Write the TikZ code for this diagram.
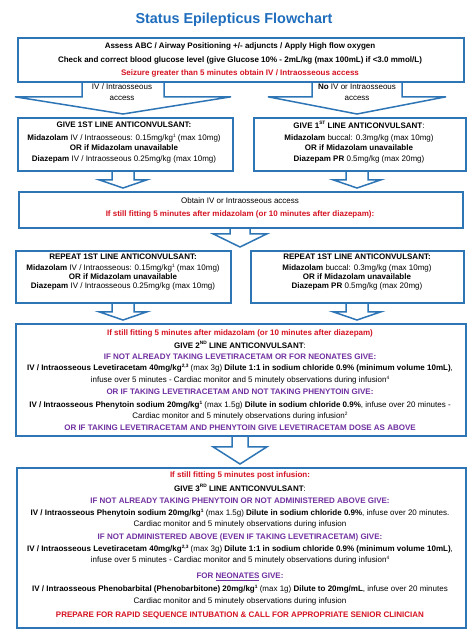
\documentclass[tikz,border=0pt]{standalone}
\usepackage{fontspec}
\setmainfont{Liberation Sans}
\usetikzlibrary{calc}
\definecolor{bborder}{RGB}{46,117,182}
\definecolor{ttlblue}{RGB}{31,110,190}
\definecolor{redt}{RGB}{213,18,33}
\definecolor{purp}{RGB}{112,48,160}
\newcommand\fs{\fontsize{8}{9}\selectfont}
\newcommand\sps[1]{\raisebox{0.42em}{\fontsize{4.8}{5}\selectfont #1}}
\newcommand\hollow[6]{%
  \draw[arr] let \p1=(#1.south), \p2=(#2.north) in
   ({(#3-#4)*1pt},\y1) -- ({(#3-#4)*1pt},{\y1-#6pt}) -- ({(#3-#5)*1pt},{\y1-#6pt})
   -- ({#3pt},{\y2+3pt}) -- ({(#3+#5)*1pt},{\y1-#6pt}) -- ({(#3+#4)*1pt},{\y1-#6pt})
   -- ({(#3+#4)*1pt},\y1);}
\begin{document}
\begin{tikzpicture}[x=1pt,y=-1pt,
  box/.style={draw=bborder,line width=1.8pt,fill=white,anchor=north west,inner sep=0pt},
  arr/.style={draw=bborder,line width=1.5pt,line join=miter},
  tx/.style={inner sep=0pt,anchor=center,font=\fs,text=black},
  tb/.style={tx,font=\fs\bfseries},
  tr/.style={tx,font=\fs\bfseries,text=redt},
  tp/.style={tx,font=\fs\bfseries,text=purp}]
\useasboundingbox (0,0) rectangle (474,640);
\fill[white] (0,0) rectangle (474,640);
% title
\node[inner sep=0pt,font=\fontsize{14.4}{16}\selectfont\bfseries,text=ttlblue] (title) at (234,20) {Status Epilepticus Flowchart};
% boxes
\node[box,minimum width=446pt,minimum height=44pt] (b1) at (17,37) {};
\node[box,minimum width=215pt,minimum height=53pt] (b2l) at (17,117) {};
\node[box,minimum width=212pt,minimum height=53pt] (b2r) at (253,117) {};
\node[box,minimum width=444pt,minimum height=36pt] (b3) at (18,191) {};
\node[box,minimum width=215pt,minimum height=52pt] (b4l) at (15,250) {};
\node[box,minimum width=213pt,minimum height=52pt] (b4r) at (250,250) {};
\node[box,minimum width=450pt,minimum height=112pt] (b5) at (15,323) {};
\node[box,minimum width=449pt,minimum height=160pt] (b6) at (16,467) {};
% arrows
\hollow{b1}{b2l}{123}{41}{108}{14}
\hollow{b1}{b2r}{357}{45}{89}{14}
\hollow{b2l}{b3}{123}{11}{24}{8}
\hollow{b2r}{b3}{357}{11}{24}{8}
\hollow{b3}{b4l}{240}{10}{27}{5}
\hollow{b4l}{b5}{123}{11}{24}{8}
\hollow{b4r}{b5}{357}{11}{24}{8}
\hollow{b5}{b6}{240}{8}{27}{10}
% box 1
\node[tb] (t1a) at (240,46) {Assess ABC / Airway Positioning +/- adjuncts / Apply High flow oxygen};
\node[tb] (t1b) at (240,60) {Check and correct blood glucose level (give Glucose 10\% - 2mL/kg (max 100mL) if <3.0 mmol/L)};
\node[tr] (t1c) at (240,73) {Seizure greater than 5 minutes obtain IV / Intraosseous access};
% arrow labels
\node[tx] (l1a) at (122,87) {IV / Intraosseous};
\node[tx] (l1b) at (122,98) {access};
\node[tx] (l2a) at (357,87) {\textbf{No} IV or Intraosseous};
\node[tx] (l2b) at (357,98) {access};
% box 2 left
\node[tb] (t2a) at (124,125) {GIVE 1ST LINE ANTICONVULSANT:};
\node[tx] (t2b) at (124,138) {\textbf{Midazolam} IV / Intraosseous: 0.15mg/kg\sps{1} (max 10mg)};
\node[tb] (t2c) at (124,148) {OR if Midazolam unavailable};
\node[tx] (t2d) at (124,159) {\textbf{Diazepam} IV / Intraosseous 0.25mg/kg (max 10mg)};
% box 2 right
\node[tx] (t3a) at (359,125) {\textbf{GIVE 1\sps{ST} LINE ANTICONVULSANT}:};
\node[tx] (t3b) at (359,138) {\textbf{Midazolam} buccal: 0.3mg/kg (max 10mg)};
\node[tb] (t3c) at (359,148) {OR if Midazolam unavailable};
\node[tx] (t3d) at (359,159) {\textbf{Diazepam PR} 0.5mg/kg (max 20mg)};
% box 3
\node[tx] (t4a) at (240,201) {Obtain IV or Intraosseous access};
\node[tr] (t4b) at (240,214) {If still fitting 5 minutes after midazolam (or 10 minutes after diazepam):};
% box 4 left
\node[tb] (t5a) at (123,257) {REPEAT 1ST LINE ANTICONVULSANT:};
\node[tx] (t5b) at (123,268) {\textbf{Midazolam} IV / Intraosseous: 0.15mg/kg\sps{1} (max 10mg)};
\node[tb] (t5c) at (123,277) {OR if Midazolam unavailable};
\node[tx] (t5d) at (123,286) {\textbf{Diazepam} IV / Intraosseous 0.25mg/kg (max 10mg)};
% box 4 right
\node[tb] (t6a) at (357,257) {REPEAT 1ST LINE ANTICONVULSANT:};
\node[tx] (t6b) at (357,268) {\textbf{Midazolam} buccal: 0.3mg/kg (max 10mg)};
\node[tb] (t6c) at (357,277) {OR if Midazolam unavailable};
\node[tx] (t6d) at (357,286) {\textbf{Diazepam PR} 0.5mg/kg (max 20mg)};
% box 5
\node[tr] (t7a) at (240,333) {If still fitting 5 minutes after midazolam (or 10 minutes after diazepam)};
\node[tx] (t7b) at (240,345) {\textbf{GIVE 2\sps{ND} LINE ANTICONVULSANT}:};
\node[tp] (t7c) at (240,357) {IF NOT ALREADY TAKING LEVETIRACETAM OR FOR NEONATES GIVE:};
\node[tx] (t7d) at (240,368) {\textbf{IV / Intraosseous Levetiracetam 40mg/kg\sps{2,3}} (max 3g) \textbf{Dilute 1:1 in sodium chloride 0.9\% (minimum volume 10mL)},};
\node[tx] (t7e) at (240,380) {infuse over 5 minutes - Cardiac monitor and 5 minutely observations during infusion\sps{4}};
\node[tp] (t7f) at (240,392) {OR IF TAKING LEVETIRACETAM AND NOT TAKING PHENYTOIN GIVE:};
\node[tx] (t7g) at (240,405) {\textbf{IV / Intraosseous Phenytoin sodium 20mg/kg\sps{1}} (max 1.5g) \textbf{Dilute in sodium chloride 0.9\%}, infuse over 20 minutes -};
\node[tx] (t7h) at (240,416) {Cardiac monitor and 5 minutely observations during infusion\sps{2}};
\node[tp] (t7i) at (240,428) {OR IF TAKING LEVETIRACETAM AND PHENYTOIN GIVE LEVETIRACETAM DOSE AS ABOVE};
% box 6
\node[tr] (t8a) at (240,475) {If still fitting 5 minutes post infusion:};
\node[tx] (t8b) at (240,488) {\textbf{GIVE 3\sps{RD} LINE ANTICONVULSANT}:};
\node[tp] (t8c) at (240,501) {IF NOT ALREADY TAKING PHENYTOIN OR NOT ADMINISTERED ABOVE GIVE:};
\node[tx] (t8d) at (240,513) {\textbf{IV / Intraosseous Phenytoin sodium 20mg/kg\sps{1}} (max 1.5g) \textbf{Dilute in sodium chloride 0.9\%}, infuse over 20 minutes.};
\node[tx] (t8e) at (240,524) {Cardiac monitor and 5 minutely observations during infusion};
\node[tp] (t8f) at (240,537) {IF NOT ADMINISTERED ABOVE (EVEN IF TAKING LEVETIRACETAM) GIVE:};
\node[tx] (t8g) at (240,549) {\textbf{IV / Intraosseous Levetiracetam 40mg/kg\sps{2,3}} (max 3g) \textbf{Dilute 1:1 in sodium chloride 0.9\% (minimum volume 10mL)},};
\node[tx] (t8h) at (240,560) {infuse over 5 minutes - Cardiac monitor and 5 minutely observations during infusion\sps{4}};
\node[tp] (t8i) at (240,577) {FOR \underline{NEONATES} GIVE:};
\node[tx] (t8j) at (240,589) {\textbf{IV / Intraosseous Phenobarbital (Phenobarbitone) 20mg/kg\sps{1}} (max 1g) \textbf{Dilute to 20mg/mL}, infuse over 20 minutes};
\node[tx] (t8k) at (240,601) {Cardiac monitor and 5 minutely observations during infusion};
\node[tr] (t8l) at (240,615) {PREPARE FOR RAPID SEQUENCE INTUBATION \& CALL FOR APPROPRIATE SENIOR CLINICIAN};
\end{tikzpicture}
\end{document}
